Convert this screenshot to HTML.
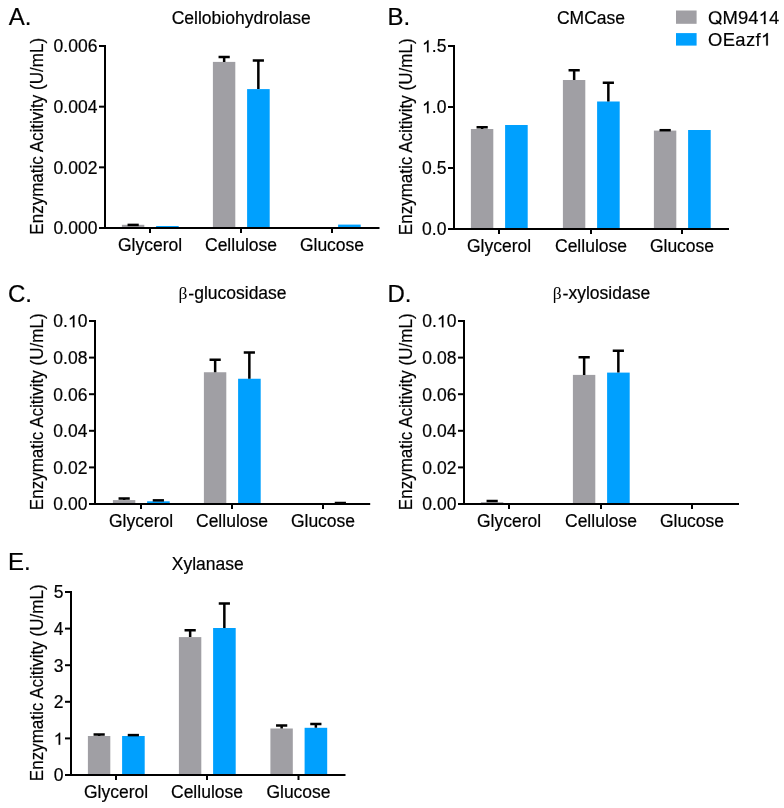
<!DOCTYPE html><html><head><meta charset="utf-8"><style>html,body{margin:0;padding:0;background:#fff;}svg{display:block;will-change:transform;}text{font-family:"Liberation Sans", sans-serif;fill:#000;stroke:#000;stroke-width:0.2px;}.b{font-family:"Liberation Serif",serif;stroke:none;}.h{fill:transparent;stroke:none;}</style></head><body>
<svg width="784" height="808" viewBox="0 0 784 808">
<rect width="784" height="808" fill="#fff"/>
<text x="241.25" y="24.20" font-size="17.5" text-anchor="middle">Cellobiohydrolase</text>
<text x="8.80" y="25.00" font-size="24">A.</text>
<rect x="121.90" y="224.80" width="22.4" height="3.20" fill="#a09fa4"/>
<rect x="156.10" y="226.00" width="22.6" height="2.00" fill="#00a0fe"/>
<path d="M127.55 224.90H138.75" stroke="#000" stroke-width="2.5" fill="none"/>
<rect x="212.90" y="61.90" width="22.4" height="166.10" fill="#a09fa4"/>
<rect x="247.10" y="89.10" width="22.6" height="138.90" fill="#00a0fe"/>
<path d="M224.15 61.90V56.90M218.55 56.90H229.75" stroke="#000" stroke-width="2.5" fill="none"/>
<path d="M258.35 89.10V60.50M252.75 60.50H263.95" stroke="#000" stroke-width="2.5" fill="none"/>
<rect x="338.10" y="224.60" width="22.6" height="3.40" fill="#00a0fe"/>
<path d="M105.00 45.00V228.00H379.50" stroke="#000" stroke-width="2" fill="none" stroke-linejoin="miter"/>
<path d="M99.00 228.00H105.00" stroke="#000" stroke-width="2" fill="none"/>
<text x="97.40" y="234.30" font-size="17.5" text-anchor="end">0.000</text>
<path d="M99.00 167.33H105.00" stroke="#000" stroke-width="2" fill="none"/>
<text x="97.40" y="173.63" font-size="17.5" text-anchor="end">0.002</text>
<path d="M99.00 106.67H105.00" stroke="#000" stroke-width="2" fill="none"/>
<text x="97.40" y="112.97" font-size="17.5" text-anchor="end">0.004</text>
<path d="M99.00 46.00H105.00" stroke="#000" stroke-width="2" fill="none"/>
<text x="97.40" y="52.30" font-size="17.5" text-anchor="end">0.006</text>
<path d="M150.00 228.00V233.00" stroke="#000" stroke-width="2" fill="none"/>
<text x="150.00" y="251.40" font-size="17.5" text-anchor="middle">Glycerol</text>
<path d="M241.00 228.00V233.00" stroke="#000" stroke-width="2" fill="none"/>
<text x="241.00" y="251.40" font-size="17.5" text-anchor="middle">Cellulose</text>
<path d="M332.00 228.00V233.00" stroke="#000" stroke-width="2" fill="none"/>
<text x="332.00" y="251.40" font-size="17.5" text-anchor="middle">Glucose</text>
<text transform="translate(42.90 136.30) rotate(-90)" font-size="17.5" text-anchor="middle" textLength="196.8" lengthAdjust="spacingAndGlyphs">Enzymatic Acitivity (U/mL)</text>
<text x="591.00" y="24.20" font-size="17.5" text-anchor="middle">CMCase</text>
<text x="387.60" y="25.00" font-size="24">B.</text>
<rect x="470.90" y="129.00" width="22.4" height="100.00" fill="#a09fa4"/>
<rect x="505.10" y="125.00" width="22.6" height="104.00" fill="#00a0fe"/>
<path d="M482.15 129.00V127.30M476.55 127.30H487.75" stroke="#000" stroke-width="2.5" fill="none"/>
<rect x="562.90" y="80.00" width="22.4" height="149.00" fill="#a09fa4"/>
<rect x="597.10" y="101.50" width="22.6" height="127.50" fill="#00a0fe"/>
<path d="M574.15 80.00V70.20M568.55 70.20H579.75" stroke="#000" stroke-width="2.5" fill="none"/>
<path d="M608.35 101.50V82.80M602.75 82.80H613.95" stroke="#000" stroke-width="2.5" fill="none"/>
<rect x="653.90" y="130.60" width="22.4" height="98.40" fill="#a09fa4"/>
<rect x="688.10" y="130.00" width="22.6" height="99.00" fill="#00a0fe"/>
<path d="M659.55 130.20H670.75" stroke="#000" stroke-width="2.5" fill="none"/>
<path d="M454.00 45.00V229.00H729.00" stroke="#000" stroke-width="2" fill="none" stroke-linejoin="miter"/>
<path d="M448.00 229.00H454.00" stroke="#000" stroke-width="2" fill="none"/>
<text x="446.40" y="235.30" font-size="17.5" text-anchor="end">0.0</text>
<path d="M448.00 168.00H454.00" stroke="#000" stroke-width="2" fill="none"/>
<text x="446.40" y="174.30" font-size="17.5" text-anchor="end">0.5</text>
<path d="M448.00 107.00H454.00" stroke="#000" stroke-width="2" fill="none"/>
<text x="446.40" y="113.30" font-size="17.5" text-anchor="end"><tspan class="h">1</tspan>.0</text>
<path d="M448.00 46.00H454.00" stroke="#000" stroke-width="2" fill="none"/>
<text x="446.40" y="52.30" font-size="17.5" text-anchor="end"><tspan class="h">1</tspan>.5</text>
<path d="M499.00 229.00V234.00" stroke="#000" stroke-width="2" fill="none"/>
<text x="499.00" y="252.40" font-size="17.5" text-anchor="middle">Glycerol</text>
<path d="M591.00 229.00V234.00" stroke="#000" stroke-width="2" fill="none"/>
<text x="591.00" y="252.40" font-size="17.5" text-anchor="middle">Cellulose</text>
<path d="M682.00 229.00V234.00" stroke="#000" stroke-width="2" fill="none"/>
<text x="682.00" y="252.40" font-size="17.5" text-anchor="middle">Glucose</text>
<text transform="translate(412.00 136.80) rotate(-90)" font-size="17.5" text-anchor="middle" textLength="196.8" lengthAdjust="spacingAndGlyphs">Enzymatic Acitivity (U/mL)</text>
<text x="232.55" y="299.10" font-size="17.5" text-anchor="middle"><tspan class="b">β</tspan><tspan dx="0.9" class="h">-</tspan>glucosidase</text>
<text x="8.00" y="302.30" font-size="24">C.</text>
<rect x="112.90" y="500.10" width="22.4" height="3.90" fill="#a09fa4"/>
<rect x="147.10" y="501.30" width="22.6" height="2.70" fill="#00a0fe"/>
<path d="M124.15 500.10V498.40M118.55 498.40H129.75" stroke="#000" stroke-width="2.5" fill="none"/>
<path d="M152.75 500.35H163.95" stroke="#000" stroke-width="2.5" fill="none"/>
<rect x="203.90" y="372.25" width="22.4" height="131.75" fill="#a09fa4"/>
<rect x="238.10" y="378.75" width="22.6" height="125.25" fill="#00a0fe"/>
<path d="M215.15 372.25V359.75M209.55 359.75H220.75" stroke="#000" stroke-width="2.5" fill="none"/>
<path d="M249.35 378.75V352.40M243.75 352.40H254.95" stroke="#000" stroke-width="2.5" fill="none"/>
<path d="M334.75 503.00H345.95" stroke="#000" stroke-width="2.5" fill="none"/>
<path d="M95.00 320.00V504.00H370.20" stroke="#000" stroke-width="2" fill="none" stroke-linejoin="miter"/>
<path d="M89.00 504.00H95.00" stroke="#000" stroke-width="2" fill="none"/>
<text x="87.40" y="510.30" font-size="17.5" text-anchor="end">0.00</text>
<path d="M89.00 467.40H95.00" stroke="#000" stroke-width="2" fill="none"/>
<text x="87.40" y="473.70" font-size="17.5" text-anchor="end">0.02</text>
<path d="M89.00 430.80H95.00" stroke="#000" stroke-width="2" fill="none"/>
<text x="87.40" y="437.10" font-size="17.5" text-anchor="end">0.04</text>
<path d="M89.00 394.20H95.00" stroke="#000" stroke-width="2" fill="none"/>
<text x="87.40" y="400.50" font-size="17.5" text-anchor="end">0.06</text>
<path d="M89.00 357.60H95.00" stroke="#000" stroke-width="2" fill="none"/>
<text x="87.40" y="363.90" font-size="17.5" text-anchor="end">0.08</text>
<path d="M89.00 321.00H95.00" stroke="#000" stroke-width="2" fill="none"/>
<text x="87.40" y="327.30" font-size="17.5" text-anchor="end">0.<tspan class="h">1</tspan>0</text>
<path d="M141.00 504.00V509.00" stroke="#000" stroke-width="2" fill="none"/>
<text x="141.00" y="527.40" font-size="17.5" text-anchor="middle">Glycerol</text>
<path d="M232.00 504.00V509.00" stroke="#000" stroke-width="2" fill="none"/>
<text x="232.00" y="527.40" font-size="17.5" text-anchor="middle">Cellulose</text>
<path d="M323.00 504.00V509.00" stroke="#000" stroke-width="2" fill="none"/>
<text x="323.00" y="527.40" font-size="17.5" text-anchor="middle">Glucose</text>
<text transform="translate(42.80 411.80) rotate(-90)" font-size="17.5" text-anchor="middle" textLength="196.8" lengthAdjust="spacingAndGlyphs">Enzymatic Acitivity (U/mL)</text>
<text x="601.45" y="299.10" font-size="17.5" text-anchor="middle"><tspan class="b">β</tspan><tspan dx="0.9" class="h">-</tspan>xylosidase</text>
<text x="387.50" y="302.00" font-size="24">D.</text>
<rect x="480.90" y="502.20" width="22.4" height="1.80" fill="#a09fa4"/>
<path d="M486.55 501.00H497.75" stroke="#000" stroke-width="2.5" fill="none"/>
<rect x="572.90" y="374.90" width="22.4" height="129.10" fill="#a09fa4"/>
<rect x="607.10" y="372.60" width="22.6" height="131.40" fill="#00a0fe"/>
<path d="M584.15 374.90V357.20M578.55 357.20H589.75" stroke="#000" stroke-width="2.5" fill="none"/>
<path d="M618.35 372.60V350.80M612.75 350.80H623.95" stroke="#000" stroke-width="2.5" fill="none"/>
<path d="M464.00 320.00V504.00H739.00" stroke="#000" stroke-width="2" fill="none" stroke-linejoin="miter"/>
<path d="M458.00 504.00H464.00" stroke="#000" stroke-width="2" fill="none"/>
<text x="456.40" y="510.30" font-size="17.5" text-anchor="end">0.00</text>
<path d="M458.00 467.40H464.00" stroke="#000" stroke-width="2" fill="none"/>
<text x="456.40" y="473.70" font-size="17.5" text-anchor="end">0.02</text>
<path d="M458.00 430.80H464.00" stroke="#000" stroke-width="2" fill="none"/>
<text x="456.40" y="437.10" font-size="17.5" text-anchor="end">0.04</text>
<path d="M458.00 394.20H464.00" stroke="#000" stroke-width="2" fill="none"/>
<text x="456.40" y="400.50" font-size="17.5" text-anchor="end">0.06</text>
<path d="M458.00 357.60H464.00" stroke="#000" stroke-width="2" fill="none"/>
<text x="456.40" y="363.90" font-size="17.5" text-anchor="end">0.08</text>
<path d="M458.00 321.00H464.00" stroke="#000" stroke-width="2" fill="none"/>
<text x="456.40" y="327.30" font-size="17.5" text-anchor="end">0.<tspan class="h">1</tspan>0</text>
<path d="M509.00 504.00V509.00" stroke="#000" stroke-width="2" fill="none"/>
<text x="509.00" y="527.40" font-size="17.5" text-anchor="middle">Glycerol</text>
<path d="M601.00 504.00V509.00" stroke="#000" stroke-width="2" fill="none"/>
<text x="601.00" y="527.40" font-size="17.5" text-anchor="middle">Cellulose</text>
<path d="M692.00 504.00V509.00" stroke="#000" stroke-width="2" fill="none"/>
<text x="692.00" y="527.40" font-size="17.5" text-anchor="middle">Glucose</text>
<text transform="translate(412.00 411.80) rotate(-90)" font-size="17.5" text-anchor="middle" textLength="196.8" lengthAdjust="spacingAndGlyphs">Enzymatic Acitivity (U/mL)</text>
<text x="207.75" y="570.20" font-size="17.5" text-anchor="middle">Xylanase</text>
<text x="8.00" y="570.00" font-size="24">E.</text>
<rect x="87.90" y="736.00" width="22.4" height="39.00" fill="#a09fa4"/>
<rect x="122.10" y="736.00" width="22.6" height="39.00" fill="#00a0fe"/>
<path d="M99.15 736.00V734.50M93.55 734.50H104.75" stroke="#000" stroke-width="2.5" fill="none"/>
<path d="M127.75 735.10H138.95" stroke="#000" stroke-width="2.5" fill="none"/>
<rect x="178.90" y="637.10" width="22.4" height="137.90" fill="#a09fa4"/>
<rect x="213.10" y="628.00" width="22.6" height="147.00" fill="#00a0fe"/>
<path d="M190.15 637.10V630.30M184.55 630.30H195.75" stroke="#000" stroke-width="2.5" fill="none"/>
<path d="M224.35 628.00V603.40M218.75 603.40H229.95" stroke="#000" stroke-width="2.5" fill="none"/>
<rect x="270.40" y="728.50" width="22.4" height="46.50" fill="#a09fa4"/>
<rect x="304.60" y="727.80" width="22.6" height="47.20" fill="#00a0fe"/>
<path d="M281.65 728.50V725.60M276.05 725.60H287.25" stroke="#000" stroke-width="2.5" fill="none"/>
<path d="M315.85 727.80V724.00M310.25 724.00H321.45" stroke="#000" stroke-width="2.5" fill="none"/>
<path d="M71.00 591.00V775.00H345.50" stroke="#000" stroke-width="2" fill="none" stroke-linejoin="miter"/>
<path d="M65.00 775.00H71.00" stroke="#000" stroke-width="2" fill="none"/>
<text x="63.40" y="781.30" font-size="17.5" text-anchor="end">0</text>
<path d="M65.00 738.40H71.00" stroke="#000" stroke-width="2" fill="none"/>
<text x="63.40" y="744.70" font-size="17.5" text-anchor="end"><tspan class="h">1</tspan></text>
<path d="M65.00 701.80H71.00" stroke="#000" stroke-width="2" fill="none"/>
<text x="63.40" y="708.10" font-size="17.5" text-anchor="end">2</text>
<path d="M65.00 665.20H71.00" stroke="#000" stroke-width="2" fill="none"/>
<text x="63.40" y="671.50" font-size="17.5" text-anchor="end">3</text>
<path d="M65.00 628.60H71.00" stroke="#000" stroke-width="2" fill="none"/>
<text x="63.40" y="634.90" font-size="17.5" text-anchor="end">4</text>
<path d="M65.00 592.00H71.00" stroke="#000" stroke-width="2" fill="none"/>
<text x="63.40" y="598.30" font-size="17.5" text-anchor="end">5</text>
<path d="M116.00 775.00V780.00" stroke="#000" stroke-width="2" fill="none"/>
<text x="116.00" y="798.40" font-size="17.5" text-anchor="middle">Glycerol</text>
<path d="M207.00 775.00V780.00" stroke="#000" stroke-width="2" fill="none"/>
<text x="207.00" y="798.40" font-size="17.5" text-anchor="middle">Cellulose</text>
<path d="M298.50 775.00V780.00" stroke="#000" stroke-width="2" fill="none"/>
<text x="298.50" y="798.40" font-size="17.5" text-anchor="middle">Glucose</text>
<text transform="translate(42.70 682.80) rotate(-90)" font-size="17.5" text-anchor="middle" textLength="196.8" lengthAdjust="spacingAndGlyphs">Enzymatic Acitivity (U/mL)</text>
<rect x="676" y="10.5" width="20.6" height="13.3" fill="#a09fa4"/>
<rect x="676" y="33.1" width="20.6" height="12.5" fill="#00a0fe"/>
<text x="708.0" y="24.0" font-size="18.4" textLength="71.3"><tspan class="h">Q</tspan>M94<tspan class="h">1</tspan>4</text>
<text x="708.0" y="45.6" font-size="18.4" textLength="63.2">OEazf<tspan class="h">1</tspan></text>
<g id="ones"><path transform="matrix(0.00854 0 0 -0.00854 422.06 113.30)" d="M763 0L583 0L583 1102.4 Q518 1042.8 412.5 983.2 Q307 923.6 223 893.8 L223 1061.1 Q374 1129.3 486.5 1226.4 Q599 1323.5 646 1409.0 L763 1409.0 Z" fill="#000" stroke="#000" stroke-width="23.4"/><path transform="matrix(0.00854 0 0 -0.00854 422.06 52.30)" d="M763 0L583 0L583 1102.4 Q518 1042.8 412.5 983.2 Q307 923.6 223 893.8 L223 1061.1 Q374 1129.3 486.5 1226.4 Q599 1323.5 646 1409.0 L763 1409.0 Z" fill="#000" stroke="#000" stroke-width="23.4"/><rect x="189.01" y="293.71" width="4.47" height="1.73" fill="#000"/><path transform="matrix(0.00854 0 0 -0.00854 67.93 327.30)" d="M763 0L583 0L583 1102.4 Q518 1042.8 412.5 983.2 Q307 923.6 223 893.8 L223 1061.1 Q374 1129.3 486.5 1226.4 Q599 1323.5 646 1409.0 L763 1409.0 Z" fill="#000" stroke="#000" stroke-width="23.4"/><rect x="563.26" y="293.71" width="4.47" height="1.73" fill="#000"/><path transform="matrix(0.00854 0 0 -0.00854 436.93 327.30)" d="M763 0L583 0L583 1102.4 Q518 1042.8 412.5 983.2 Q307 923.6 223 893.8 L223 1061.1 Q374 1129.3 486.5 1226.4 Q599 1323.5 646 1409.0 L763 1409.0 Z" fill="#000" stroke="#000" stroke-width="23.4"/><path transform="matrix(0.00854 0 0 -0.00854 53.67 744.70)" d="M763 0L583 0L583 1102.4 Q518 1042.8 412.5 983.2 Q307 923.6 223 893.8 L223 1061.1 Q374 1129.3 486.5 1226.4 Q599 1323.5 646 1409.0 L763 1409.0 Z" fill="#000" stroke="#000" stroke-width="23.4"/><g transform="matrix(0.00898 0 0 -0.00898 708.00 24.00)"><path d="M1495 711Q1495 490 1410.5 324.0Q1326 158 1168.0 69.0Q1010 -20 795 -20Q578 -20 420.5 68.0Q263 156 180.0 322.5Q97 489 97 711Q97 1049 282.0 1239.5Q467 1430 797 1430Q1012 1430 1170.0 1344.5Q1328 1259 1411.5 1096.0Q1495 933 1495 711ZM1300 711Q1300 974 1168.5 1124.0Q1037 1274 797 1274Q555 1274 423.0 1126.0Q291 978 291 711Q291 446 424.5 290.5Q558 135 795 135Q1039 135 1169.5 285.5Q1300 436 1300 711Z" fill="#000" stroke="#000" stroke-width="22.3"/><path d="M905 400L1490 -40" stroke="#000" stroke-width="165.0" fill="none"/></g><path transform="matrix(0.00898 0 0 -0.00898 758.69 24.00)" d="M763 0L583 0L583 1102.4 Q518 1042.8 412.5 983.2 Q307 923.6 223 893.8 L223 1061.1 Q374 1129.3 486.5 1226.4 Q599 1323.5 646 1409.0 L763 1409.0 Z" fill="#000" stroke="#000" stroke-width="22.3"/><path transform="matrix(0.00898 0 0 -0.00898 760.97 45.60)" d="M763 0L583 0L583 1102.4 Q518 1042.8 412.5 983.2 Q307 923.6 223 893.8 L223 1061.1 Q374 1129.3 486.5 1226.4 Q599 1323.5 646 1409.0 L763 1409.0 Z" fill="#000" stroke="#000" stroke-width="22.3"/></g>
</svg></body></html>
